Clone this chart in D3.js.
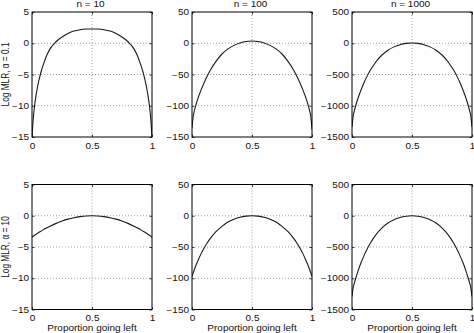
<!DOCTYPE html>
<html>
<head>
<meta charset="utf-8">
<script src="https://cdn.jsdelivr.net/npm/d3@7"></script>
<style>
  html, body { margin: 0; padding: 0; background: #fff; }
  svg { display: block; font-family: "Liberation Sans", Arial, Helvetica, sans-serif; }
</style>
</head>
<body>
<svg id="chart" width="474" height="333"></svg>
<script>
// Proportion of the node's points sent to the left child
const proportion = [0, 0.01, 0.02, 0.035, 0.05, 0.075, 0.1, 0.125, 0.15, 0.2, 0.25, 0.3, 0.35, 0.4, 0.45, 0.5,
  0.55, 0.6, 0.65, 0.7, 0.75, 0.8, 0.85, 0.875, 0.9, 0.925, 0.95, 0.965, 0.98, 0.99, 1];

const xTicks = [0, 0.5, 1];
const sampleSizeTitles = ["n = 10", "n = 100", "n = 1000"];
const rowLabels = ["Log MLR, \u03b1 = 0.1", "Log MLR, \u03b1 = 10"];

const yTicksN10 = [-15, -10, -5, 0, 5];
const yTicksN100 = [-150, -100, -50, 0, 50];
const yTicksN1000 = [-1500, -1000, -500, 0, 500];

// Log marginal likelihood ratio, alpha = 0.1
const mlrA01N10 = [-15, -12.2, -10.2, -8.2, -6.6, -4.6, -3.1, -1.85, -0.9, 0.24, 1.0, 1.56, 1.95, 2.17, 2.27, 2.29,
  2.27, 2.17, 1.95, 1.56, 1.0, 0.24, -0.9, -1.85, -3.1, -4.6, -6.6, -8.2, -10.2, -12.2, -15];
const mlrA01N100 = [-136, -117, -108, -97, -88, -75, -63.5, -53.3, -44, -29, -17.2, -9, -3.4, 0.5, 2.85, 3.6,
  2.85, 0.5, -3.4, -9, -17.2, -29, -44, -53.3, -63.5, -75, -88, -97, -108, -117, -138];
const mlrA01N1000 = [-1340, -1163, -1078, -972, -880, -747, -631, -530, -441, -296, -188, -111, -58, -22.5, -2, 5,
  -2, -22.5, -58, -111, -188, -296, -441, -530, -631, -747, -880, -972, -1078, -1163, -1340];

// Log marginal likelihood ratio, alpha = 10
const mlrA10N10 = [-3.4, -3.27, -3.13, -2.94, -2.75, -2.46, -2.18, -1.91, -1.67, -1.22, -0.85, -0.54, -0.31, -0.14, -0.03, 0,
  -0.03, -0.14, -0.31, -0.54, -0.85, -1.22, -1.67, -1.91, -2.18, -2.46, -2.75, -2.94, -3.13, -3.27, -3.5];
const mlrA10N100 = [-97, -91.5, -86, -78.5, -71.5, -61, -52, -44, -37, -25.5, -17, -10, -5.5, -2.3, -0.6, 0,
  -0.6, -2.3, -5.5, -10, -17, -25.5, -37, -44, -52, -61, -71.5, -78.5, -86, -91.5, -97];
const mlrA10N1000 = [-1290, -1150, -1073, -976, -885, -753, -638, -537, -448, -302, -194, -116, -63, -28, -7, 0,
  -7, -28, -63, -116, -194, -302, -448, -537, -638, -753, -885, -976, -1073, -1150, -1290];

const rows = [
  [mlrA01N10, mlrA01N100, mlrA01N1000],
  [mlrA10N10, mlrA10N100, mlrA10N1000]
];
const yTickSets = [yTicksN10, yTicksN100, yTicksN1000];

// Layout
const colLeft = [32, 192, 352];
const rowTop = [12, 184.5];
const plotW = 120, plotH = 125;
const squish = 0.82;          // glyphs are a little compressed vertically
const ink = "#111";

const svg = d3.select("#chart");
svg.append("rect").attr("width", 474).attr("height", 333).attr("fill", "#fff");

const defs = svg.append("defs");
const tickFormat = d3.format("");

rows.forEach((series, r) => {
  series.forEach((values, c) => {
    const ticks = yTickSets[c];
    const x = d3.scaleLinear().domain([0, 1]).range([0, plotW]);
    const y = d3.scaleLinear().domain([ticks[0], ticks[ticks.length - 1]]).range([plotH, 0]);

    const g = svg.append("g").attr("transform", `translate(${colLeft[c]},${rowTop[r]})`);

    const clipId = `clip-${r}-${c}`;
    defs.append("clipPath").attr("id", clipId)
      .append("rect").attr("x", 0).attr("y", 0).attr("width", plotW).attr("height", plotH);

    // dotted grid
    const grid = g.append("g").attr("stroke", "#8c8c8c").attr("stroke-width", 0.8)
      .attr("stroke-dasharray", "1,2").attr("fill", "none");
    ticks.slice(1, -1).forEach(v => {
      grid.append("line").attr("x1", 0).attr("x2", plotW).attr("y1", y(v)).attr("y2", y(v));
    });
    xTicks.slice(1, -1).forEach(v => {
      grid.append("line").attr("x1", x(v)).attr("x2", x(v)).attr("y1", 0).attr("y2", plotH);
    });

    // curve
    const line = d3.line()
      .x((d, i) => x(proportion[i]))
      .y(d => y(d))
      .curve(d3.curveMonotoneX);
    g.append("path")
      .datum(values)
      .attr("clip-path", `url(#${clipId})`)
      .attr("fill", "none")
      .attr("stroke", "#1a1a1a")
      .attr("stroke-width", 1.1)
      .attr("d", line);

    // axes with inward ticks
    const left = g.append("g").call(d3.axisLeft(y).tickValues(ticks).tickSize(-2.5).tickPadding(3).tickFormat(tickFormat));
    const bottom = g.append("g").attr("transform", `translate(0,${plotH})`)
      .call(d3.axisBottom(x).tickValues(xTicks).tickSize(-2.5).tickFormat(tickFormat));
    const right = g.append("g").attr("transform", `translate(${plotW},0)`)
      .call(d3.axisRight(y).tickValues(ticks).tickSize(-2.5).tickFormat(""));
    const top = g.append("g")
      .call(d3.axisTop(x).tickValues(xTicks).tickSize(-2.5).tickFormat(""));

    [left, bottom, right, top].forEach(a => {
      a.select(".domain").remove();
      a.selectAll(".tick line").attr("stroke", ink).attr("stroke-width", 0.8);
    });

    left.selectAll(".tick text")
      .attr("fill", ink).attr("font-size", 10)
      .attr("font-family", "Liberation Sans, Arial, sans-serif")
      .attr("transform", `scale(1,${squish})`);

    bottom.selectAll(".tick text")
      .attr("fill", ink).attr("font-size", 10)
      .attr("font-family", "Liberation Sans, Arial, sans-serif")
      .attr("y", null).attr("dy", null)
      .attr("transform", `translate(0,${r === 0 ? 11.6 : 11})scale(1,${squish})`);

    // frame
    g.append("rect")
      .attr("x", 0).attr("y", 0).attr("width", plotW).attr("height", plotH)
      .attr("fill", "none").attr("stroke", "#000").attr("stroke-width", 1);

    // column titles on the top row
    if (r === 0) {
      g.append("text")
        .attr("text-anchor", "middle")
        .attr("transform", `translate(${plotW / 2 - 1.5},-4.8)scale(1,${squish})`)
        .attr("font-size", 10).attr("fill", ink)
        .text(sampleSizeTitles[c]);
    }

    // x label on the bottom row
    if (r === 1) {
      g.append("text")
        .attr("text-anchor", "middle")
        .attr("transform", `translate(${plotW / 2},${plotH + 21})scale(1,${squish})`)
        .attr("font-size", 10).attr("fill", ink)
        .text("Proportion going left");
    }

    // row label on the first column
    if (c === 0) {
      svg.append("text")
        .attr("text-anchor", "middle")
        .attr("transform", `translate(8.5,${rowTop[r] + plotH / 2})rotate(-90)scale(${squish + 0.01},1)`)
        .attr("font-size", 10).attr("fill", ink)
        .text(rowLabels[r]);
    }
  });
});
</script>
</body>
</html>
